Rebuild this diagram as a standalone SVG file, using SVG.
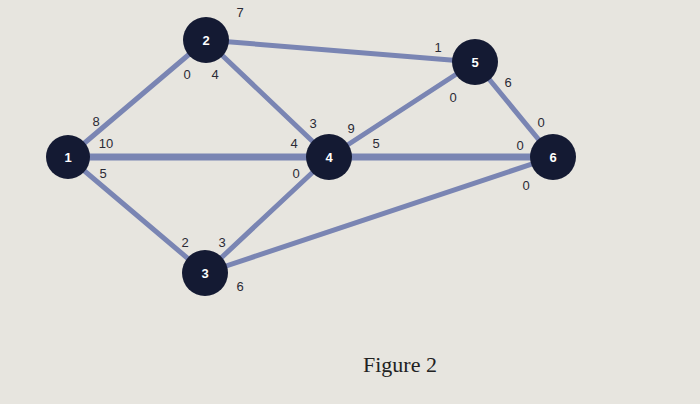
<svg xmlns="http://www.w3.org/2000/svg" width="700" height="404" viewBox="0 0 700 404">
<style>
.e{stroke:#7a85b3;stroke-width:5;stroke-linecap:round}
.t{stroke-width:7}
.n{fill:#141a33}
.nl{fill:#fff;font:bold 13px "Liberation Sans",Arial,sans-serif;text-anchor:middle}
.l{fill:#2a2a35;font:13px "Liberation Sans",Arial,sans-serif;text-anchor:middle}
</style>
<rect width="700" height="404" fill="#e7e5df"/>
<g id="edges">
<line class="e" x1="68" y1="157" x2="206" y2="40"/>
<line class="e t" x1="68" y1="157" x2="329" y2="157"/>
<line class="e" x1="68" y1="157" x2="205" y2="273"/>
<line class="e" x1="206" y1="40" x2="329" y2="157"/>
<line class="e" x1="206" y1="40" x2="475" y2="62"/>
<line class="e" x1="205" y1="273" x2="329" y2="157"/>
<line class="e" x1="205" y1="273" x2="553" y2="157"/>
<line class="e" x1="329" y1="157" x2="475" y2="62"/>
<line class="e t" x1="329" y1="157" x2="553" y2="157"/>
<line class="e" x1="475" y1="62" x2="553" y2="157"/>
</g>
<g id="n1"><circle class="n" cx="68" cy="157" r="22"/><text class="nl" x="68" y="162">1</text></g>
<g id="n2"><circle class="n" cx="206" cy="40" r="23"/><text class="nl" x="206" y="45">2</text></g>
<g id="n3"><circle class="n" cx="205" cy="273" r="23"/><text class="nl" x="205" y="278">3</text></g>
<g id="n4"><circle class="n" cx="329" cy="157" r="23"/><text class="nl" x="329" y="162">4</text></g>
<g id="n5"><circle class="n" cx="475" cy="62" r="23"/><text class="nl" x="475" y="67">5</text></g>
<g id="n6"><circle class="n" cx="553" cy="157" r="23"/><text class="nl" x="553" y="162">6</text></g>
<g id="labels">
<text class="l" x="240" y="17">7</text>
<text class="l" x="187" y="79">0</text>
<text class="l" x="215" y="79">4</text>
<text class="l" x="96" y="126">8</text>
<text class="l" x="106" y="148">10</text>
<text class="l" x="103" y="178">5</text>
<text class="l" x="313" y="128">3</text>
<text class="l" x="351" y="133">9</text>
<text class="l" x="294" y="148">4</text>
<text class="l" x="296" y="178">0</text>
<text class="l" x="376" y="148">5</text>
<text class="l" x="438" y="52">1</text>
<text class="l" x="508" y="87">6</text>
<text class="l" x="453" y="102">0</text>
<text class="l" x="541" y="127">0</text>
<text class="l" x="520" y="150">0</text>
<text class="l" x="526" y="190">0</text>
<text class="l" x="185" y="247">2</text>
<text class="l" x="222" y="247">3</text>
<text class="l" x="240" y="291">6</text>
</g>
<text x="400" y="372" fill="#222" font-family="Liberation Serif,serif" font-size="22" text-anchor="middle">Figure 2</text>
</svg>
